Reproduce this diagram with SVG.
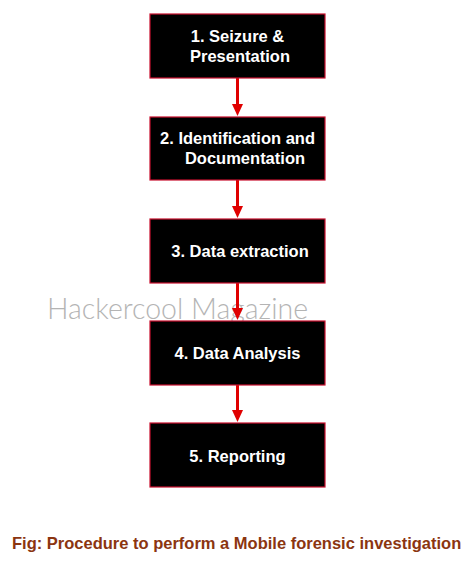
<svg xmlns="http://www.w3.org/2000/svg" width="474" height="563" viewBox="0 0 474 563">
<defs>
<style>
.box{fill:#000;stroke:#c8102e;stroke-width:1.2}
.t{fill:#fff;font-family:"Liberation Sans",Arial,sans-serif;font-weight:bold;font-size:16.5px;text-anchor:middle}
.wm{fill:#b4b4b4;font-family:Lato,"Open Sans",sans-serif;font-weight:300;font-size:28.5px}
.cap{fill:#8b3510;font-family:"Liberation Sans",Arial,sans-serif;font-weight:bold;font-size:16.5px}
.arr{stroke:#e00000;stroke-width:3;fill:none}
</style>
<marker id="ah" markerWidth="12" markerHeight="12" refX="4" refY="6" orient="auto" markerUnits="userSpaceOnUse" viewBox="0 0 12 12">
<path d="M0,0.5 L12,6 L0,11.5 Z" fill="#e00000"/>
</marker>
</defs>
<rect width="474" height="563" fill="#fff"/>
<text class="wm" x="47" y="319">Hackercool Magazine</text>
<g id="connectors">
<line class="arr" x1="237.5" y1="78" x2="237.5" y2="108" marker-end="url(#ah)"/>
<line class="arr" x1="237.5" y1="180" x2="237.5" y2="210" marker-end="url(#ah)"/>
<line class="arr" x1="237.5" y1="283" x2="237.5" y2="312" marker-end="url(#ah)"/>
<line class="arr" x1="237.5" y1="385" x2="237.5" y2="414" marker-end="url(#ah)"/>
</g>
<g id="n1"><rect class="box" x="150" y="14" width="175" height="64"/>
<text class="t" x="237.5" y="42">1. Seizure &amp;</text><text class="t" x="240" y="62">Presentation</text></g>
<g id="n2"><rect class="box" x="150" y="117" width="175" height="63"/>
<text class="t" x="237.5" y="144">2. Identification and</text><text class="t" x="245" y="164">Documentation</text></g>
<g id="n3"><rect class="box" x="150" y="219" width="175" height="64"/>
<text class="t" x="240" y="257">3. Data extraction</text></g>
<g id="n4"><rect class="box" x="150" y="321" width="175" height="64"/>
<text class="t" x="237.5" y="359">4. Data Analysis</text></g>
<g id="n5"><rect class="box" x="150" y="423" width="175" height="64"/>
<text class="t" x="237.5" y="462">5. Reporting</text></g>
<text class="cap" x="12" y="549">Fig: Procedure to perform a Mobile forensic investigation</text>
</svg>
